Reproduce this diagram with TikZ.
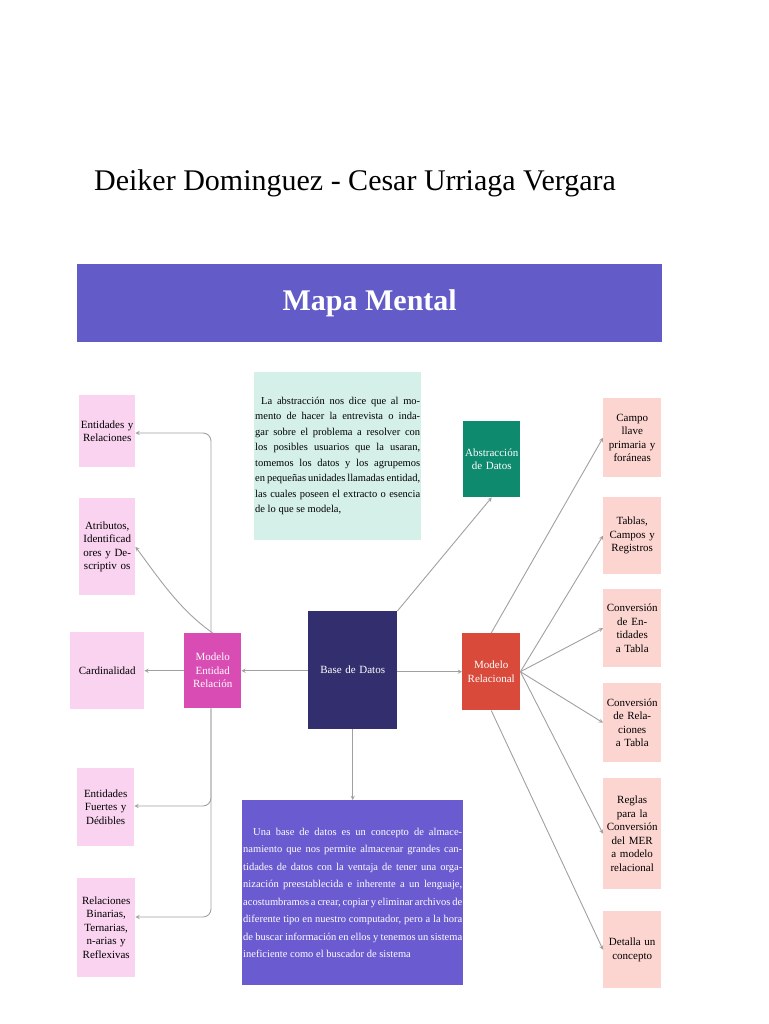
\documentclass[tikz,border=0pt]{standalone}
\usepackage{fontspec}
\setmainfont{Liberation Serif}
\begin{document}
\begin{tikzpicture}[x=1pt,y=-1pt,
 box/.style={draw=none,align=center,inner sep=1pt,font=\fontsize{11}{13.5}\selectfont,anchor=north west},
 lp/.style={box,fill={rgb,255:red,249;green,211;blue,240}},
 rp/.style={box,fill={rgb,255:red,252;green,213;blue,208}},
 dk/.style={box,text=white},
 con/.style={draw={rgb,255:red,160;green,160;blue,160},line width=0.9pt,->,>=stealth}]
\useasboundingbox (0,0) rectangle (768,1024);
\node[font=\fontsize{30}{34}\selectfont] (title) at (355,183) {Deiker Dominguez - Cesar Urriaga Vergara};
\node[box,fill={rgb,255:red,99;green,91;blue,200},minimum width=585,minimum height=78,text=white,font=\fontsize{30}{34}\selectfont\bfseries] (banner) at (77,264) {Mapa Mental};
\node[box,fill={rgb,255:red,213;green,240;blue,232},text width=165,minimum height=168,align=justify,font=\fontsize{10.5}{15.5}\selectfont] (abs) at (254,372) {\hspace*{6pt}La abstracción nos dice que al momento de hacer la entrevista o indagar sobre el problema a resolver con los posibles usuarios que la usaran, tomemos los datos y los agrupemos en pequeñas unidades llamadas entidad, las cuales poseen el extracto o esencia de lo que se modela,\par};
\node[dk,fill={rgb,255:red,14;green,138;blue,110},minimum width=57,minimum height=76,text width=55] (ad) at (463,421) {Abstracción de Datos};
\node[dk,fill={rgb,255:red,51;green,47;blue,110},minimum width=89,minimum height=118,text width=87] (bd) at (308,611) {Base de Datos};
\node[dk,fill={rgb,255:red,217;green,74;blue,58},minimum width=58,minimum height=77,text width=56] (mr) at (462,633) {Modelo Relacional};
\node[dk,fill={rgb,255:red,216;green,76;blue,180},minimum width=57,minimum height=75,text width=55] (mer) at (184,633) {Modelo Entidad Relación};
\node[lp,minimum width=56,minimum height=72,text width=54] (l1) at (79,395) {Entidades y Relaciones};
\node[lp,minimum width=56,minimum height=97,text width=54] (l2) at (79,498) {Atributos, Identificad ores y Descriptiv os};
\node[lp,minimum width=74,minimum height=77,text width=72] (l3) at (70,632) {Cardinalidad};
\node[lp,minimum width=57,minimum height=78,text width=55] (l4) at (77,768) {Entidades Fuertes y Dédibles};
\node[lp,minimum width=58,minimum height=99,text width=56] (l5) at (77,878) {Relaciones Binarias, Ternarias, n-arias y Reflexivas};
\node[rp,minimum width=58,minimum height=79,text width=56] (r1) at (603,398) {Campo llave primaria y foráneas};
\node[rp,minimum width=58,minimum height=77,text width=56] (r2) at (603,497) {Tablas, Campos y Registros};
\node[rp,minimum width=58,minimum height=78,text width=56] (r3) at (603,589) {Conversión de Entidades a Tabla};
\node[rp,minimum width=58,minimum height=79,text width=56] (r4) at (603,683) {Conversión de Relaciones a Tabla};
\node[rp,minimum width=58,minimum height=111,text width=56] (r5) at (603,778) {Reglas para la Conversión del MER a modelo relacional};
\node[rp,minimum width=58,minimum height=77,text width=56] (r6) at (603,911) {Detalla un concepto};
\node[box,fill={rgb,255:red,107;green,91;blue,208},text=white,text width=219,minimum height=185,align=justify,font=\fontsize{10.5}{17.5}\selectfont] (bt) at (242,800) {\hspace*{10pt}Una base de datos es un concepto de almacenamiento que nos permite almacenar grandes cantidades de datos con la ventaja de tener una organización preestablecida e inherente a un lenguaje, acostumbramos a crear, copiar y eliminar archivos de diferente tipo en nuestro computador, pero a la hora de buscar información en ellos y tenemos un sistema ineficiente como el buscador de sistema\par};
\draw[con] (bd.east|-mr.west) -- (mr.west);
\draw[con] (bd.west|-mer.east) -- (mer.east);
\draw[con] (bd.south) -- (bt.north-|bd.south);
\draw[con] (bd.north east) -- (ad.south);
\draw[con] (mer.west) -- (l3.east);
\draw[con] (mer.north) .. controls (180,610) and (160,580) .. (l2.east);
\draw[con,rounded corners=8pt] (mer.north-|211,0) -- (211,433) -- (l1.east|-0,433);
\draw[con,rounded corners=8pt] (mer.south-|211,0) -- (211,806) -- (l4.east|-0,806);
\draw[con,rounded corners=8pt] (mer.south-|211,0) -- (211,917) -- (l5.east|-0,917);
\draw[con] (mr.north) -- (r1.west);
\draw[con] (mr.east) -- (r2.west);
\draw[con] (mr.east) -- (r3.west);
\draw[con] (mr.east) -- (r4.west);
\draw[con] (mr.east) -- (r5.west);
\draw[con] (mr.south) -- (r6.west);
\end{tikzpicture}
\end{document}
